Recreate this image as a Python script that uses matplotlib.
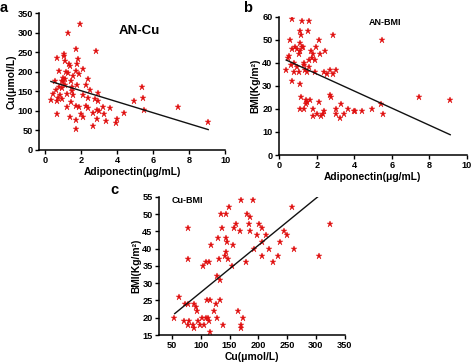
import matplotlib
matplotlib.use("Agg")
from matplotlib import pyplot as plt

plt.rcParams['font.family'] = ['Liberation Sans', 'DejaVu Sans']
plt.rcParams['font.weight'] = 'bold'

# a: Adiponectin vs Cu
an_a = [1.94, 1.26, 2.83, 1.72, 1.05, 1.05, 0.65, 1.85, 1.13, 1.76, 1.33, 1.39,
        0.79, 1.70, 2.13, 1.26, 1.89, 1.57, 0.55, 0.92, 1.09, 2.40, 1.02, 1.42,
        1.79, 2.27, 0.78, 1.13, 1.48, 2.50, 2.94, 0.59, 0.96, 0.46, 1.20, 1.57,
        2.09, 2.40, 0.31, 0.74, 0.92, 1.42, 2.77, 2.96, 0.65, 1.22, 1.72, 1.89,
        2.27, 2.38, 2.87, 2.99, 3.20, 3.60, 0.68, 1.39, 2.01, 2.09, 2.64, 3.29,
        4.36, 2.88, 3.38, 3.99, 3.94, 1.74, 2.64, 1.74, 4.92, 5.36, 5.43, 5.49,
        7.39, 9.06, 1.00, 1.50, 0.85, 1.15]
cu_a = [321, 299, 253, 258, 246, 240, 234, 232, 228, 221, 221, 215,
        203, 202, 207, 196, 193, 190, 177, 177, 181, 181, 173, 175,
        167, 165, 162, 167, 162, 152, 146, 153, 158, 143, 143, 141,
        140, 134, 128, 134, 129, 123, 130, 126, 124, 110, 113, 110,
        112, 107, 101, 100, 110, 107, 92, 85, 92, 85, 95, 92,
        94, 79, 73, 79, 68, 76, 62, 53, 124, 160, 132, 102,
        111, 71, 185, 150, 140, 200]
fit_a_x = [0.33, 9.06]
fit_a_y = [175, 52]

# b: Adiponectin vs BMI
an_b = [0.69, 1.21, 1.60, 0.55, 1.07, 1.51, 1.17, 2.11, 2.86, 5.47, 1.07, 0.85,
        0.68, 0.94, 1.21, 1.28, 1.96, 1.07, 1.69, 2.45, 0.53, 1.03, 1.80, 2.15,
        1.30, 1.56, 1.92, 1.74, 0.37, 0.46, 0.62, 0.80, 0.94, 0.68, 0.80, 1.03,
        1.12, 1.35, 1.47, 1.58, 1.88, 2.40, 2.54, 2.72, 3.00, 2.88, 1.30, 1.17,
        1.65, 1.42, 1.47, 1.39, 2.10, 2.67, 2.77, 1.08, 1.30, 1.80, 1.80, 2.01,
        2.20, 2.31, 2.36, 3.00, 3.00, 3.30, 3.43, 3.25, 3.66, 3.98, 4.05, 4.40,
        4.96, 5.43, 5.52, 7.42, 9.11]
bmi_b = [59, 58, 58, 50, 54, 54, 52, 50, 52, 50, 48.6, 47,
         46, 46, 47, 47, 47, 45, 45, 45, 43, 44, 44, 44,
         40, 41, 41, 42, 37, 42, 39, 40, 38, 32, 36, 36,
         31, 37, 36, 38, 36, 36, 35, 37, 37, 35, 39, 25,
         24, 24, 23, 22, 23, 26, 25, 20, 20, 20, 17, 18,
         17, 18, 19, 20, 18, 22, 18, 16, 20, 19, 19, 19,
         20, 22, 18, 25, 24]
fit_b_x = [0.36, 9.11]
fit_b_y = [41.2, 8.8]

# c: Cu vs BMI
cu_c = [170, 190, 149, 259, 135, 143, 181, 185, 162, 183, 201, 325,
        78, 137, 158, 206, 169, 185, 244, 198, 214, 250, 143, 130,
        145, 206, 237, 117, 156, 219, 262, 193, 143, 142, 207, 234,
        306, 78, 131, 148, 109, 115, 178, 225, 103, 155, 128, 134,
        63, 72, 78, 88, 92, 94, 110, 116, 133, 126, 123, 54,
        70, 77, 79, 86, 88, 96, 98, 102, 109, 105, 112, 115,
        116, 128, 139, 164, 170, 170, 174]
bmi_c = [54, 54, 52, 52, 50, 50, 50, 49, 47, 47, 47, 47,
         46, 46, 46, 46, 45, 45, 45, 44, 44, 44, 43, 43,
         42, 42, 42, 41, 41, 40, 40, 40, 39, 38, 38, 38,
         38, 37, 37, 37, 36, 36, 36, 36, 35, 35, 32, 31,
         26, 24, 24, 24, 23, 22, 25, 25, 25, 24, 22, 20,
         19, 18, 19, 18, 17, 19, 18, 20, 20, 18, 20, 19,
         16, 20, 18, 22, 18, 17, 20]
fit_c_x = [54.7, 303.5]
fit_c_y = [21.2, 55]

fig = plt.figure(figsize=(4.74, 3.63), dpi=100)


def panel(rect, x, y, fx, fy, xlim, ylim, xticks, yticks, xlabel, ylabel):
    ax = fig.add_axes(rect)
    ax.plot(x, y, linestyle='none', marker='*', color='#e01010', markersize=4.8,
            markeredgewidth=0.3)
    ax.plot(fx, fy, color='#111111', linewidth=1.0)
    ax.set_xlim(*xlim)
    ax.set_ylim(*ylim)
    ax.set_xticks(xticks)
    ax.set_yticks(yticks)
    for s in ['top', 'right']:
        ax.spines[s].set_visible(False)
    for s in ['left', 'bottom']:
        ax.spines[s].set_linewidth(1.1)
    ax.tick_params(length=3, width=1, labelsize=6.6, pad=1.5)
    for lab in ax.get_xticklabels() + ax.get_yticklabels():
        lab.set_fontweight('bold')
    ax.set_xlabel(xlabel, fontsize=7.4, fontweight='bold', labelpad=1)
    ax.set_ylabel(ylabel, fontsize=7.4, fontweight='bold', labelpad=1)
    return ax


ax_a = panel([0.083, 0.587, 0.392, 0.377], an_a, cu_a, fit_a_x, fit_a_y,
             (-0.31, 10), (0, 350), range(0, 11, 2), range(0, 351, 50),
             'Adiponectin(μg/mL)', 'Cu(μmol/L)')
ax_a.text(0.54, 0.87, 'AN-Cu', transform=ax_a.transAxes, ha='center',
          va='center', fontsize=9.5, fontweight='bold')

ax_b = panel([0.588, 0.573, 0.397, 0.381], an_b, bmi_b, fit_b_x, fit_b_y,
             (-0.04, 10), (0, 60), range(0, 11, 2), range(0, 61, 10),
             'Adiponectin(μg/mL)', 'BMI(Kg/m²)')
ax_b.text(0.565, 0.955, 'AN-BMI', transform=ax_b.transAxes, ha='center',
          va='center', fontsize=6.5, fontweight='bold')

ax_c = panel([0.335, 0.077, 0.392, 0.381], cu_c, bmi_c, fit_c_x, fit_c_y,
             (27, 350), (15, 55), range(50, 351, 50), range(15, 56, 5),
             'Cu(μmol/L)', 'BMI(Kg/m²)')
ax_c.text(0.068, 0.975, 'Cu-BMI', transform=ax_c.transAxes, ha='left',
          va='center', fontsize=6.5, fontweight='bold')

fig.text(0.0, 0.978, 'a', fontsize=10.5, fontweight='bold', va='center')
fig.text(0.513, 0.978, 'b', fontsize=10.5, fontweight='bold', va='center')
fig.text(0.233, 0.477, 'c', fontsize=10.5, fontweight='bold', va='center')

fig.savefig('out.png', dpi=100)
